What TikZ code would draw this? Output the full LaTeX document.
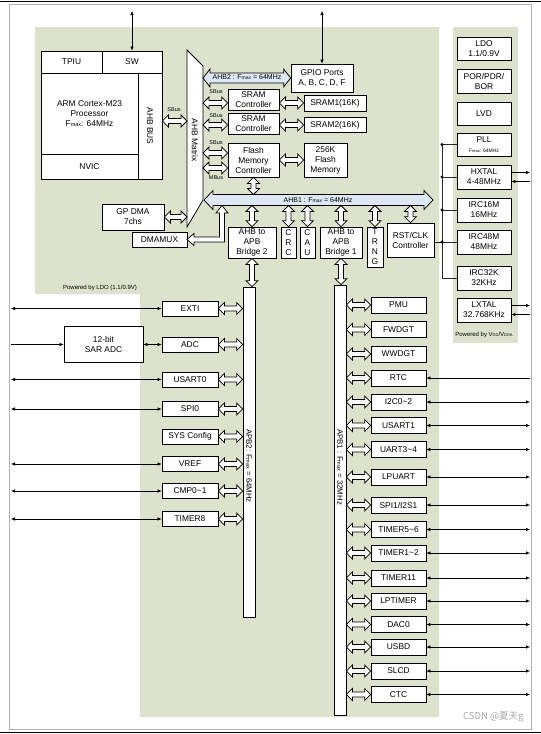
\documentclass[tikz,border=0pt]{standalone}
\usepackage{fontspec}
\setmainfont{Liberation Sans}
\newfontfamily\cjkfont{Noto Sans CJK SC}
\usepackage{tikz}
\usetikzlibrary{calc,arrows.meta}

\definecolor{chipgreen}{RGB}{221,226,205}
\definecolor{busblue}{RGB}{222,232,244}

\tikzset{
		>=stealth,
		blk/.style={draw,fill=white,line width=0.75pt,inner sep=0pt,align=center,font=\fontsize{8.4}{10}\selectfont},
		hollowarr/.style={draw,fill=white,line width=0.75pt,line join=miter},
		sig/.style={line width=0.6pt,{Latex[length=4pt,width=3.5pt]}-{Latex[length=4pt,width=3.5pt]}},
		sigin/.style={line width=0.6pt,-{Latex[length=4pt,width=3.5pt]}},
		clk/.style={line width=1pt,black!85},
		tinytxt/.style={font=\fontsize{5.5}{6}\selectfont},
		bustxt/.style={font=\fontsize{7}{7}\selectfont},
		perA/.style={blk,minimum width=56,minimum height=15},
		perB/.style={blk,minimum width=55,minimum height=16},
		pwr/.style={blk,minimum width=54,minimum height=24},
	}

\newcommand{\arrhl}{6pt}
\newcommand{\arrhw}{6pt}
\newcommand{\arrbw}{2.5pt}
\newcommand{\Fmx}[1][5.5]{F{\fontsize{#1}{#1}\selectfont max}}
\newcommand{\dblarrow}[3][]{%
  \draw[hollowarr,#1] (#2)
    -- ($($(#2)!\arrhl!(#3)$)!\arrhw!90:(#3)$)
    -- ($($(#2)!\arrhl!(#3)$)!\arrbw!90:(#3)$)
    -- ($($(#3)!\arrhl!(#2)$)!\arrbw!-90:(#2)$)
    -- ($($(#3)!\arrhl!(#2)$)!\arrhw!-90:(#2)$)
    -- (#3)
    -- ($($(#3)!\arrhl!(#2)$)!\arrhw!90:(#2)$)
    -- ($($(#3)!\arrhl!(#2)$)!\arrbw!90:(#2)$)
    -- ($($(#2)!\arrhl!(#3)$)!\arrbw!-90:(#3)$)
    -- ($($(#2)!\arrhl!(#3)$)!\arrhw!-90:(#3)$)
    -- cycle;}

\begin{document}
\begin{tikzpicture}[x=1pt,y=-1pt]
          \useasboundingbox (0,0) rectangle (541,734);
          \fill[white] (0,0) rectangle (541,734);
          \draw[gray!60,line width=0.8pt] (9,4) rectangle (531,729);
          \draw[line width=1.2pt] (0,1.5) -- (541,1.5);
          \draw[line width=1pt] (0,732.5) -- (541,732.5);

          % power domains
          \fill[chipgreen] (35,27) -- (439,27) -- (439,717) -- (140,717) -- (140,294) -- (35,294) -- cycle;
          \fill[chipgreen] (453,27) rectangle (518,343);
          \node[font=\fontsize{6}{6}\selectfont] at (100,288) {Powered by LDO (1.1/0.9V)};
          \node[font=\fontsize{6}{6}\selectfont] at (484,335) {Powered by V{\fontsize{4}{4}\selectfont DD}/V{\fontsize{4}{4}\selectfont DDA}};

          \coordinate (lft) at (11,0);
          \coordinate (rgt) at (530,0);
          \coordinate (mxl) at (187,0);
          \coordinate (mxr) at (203,0);
          \coordinate (ck) at (442,0);
          \coordinate (btop) at (0,194.5);
          \coordinate (bbot) at (0,205.5);
          \coordinate (sbus) at (0,121);

          % core
          \node[blk,minimum width=61,minimum height=22] (tpiu) at (71.5,62) {TPIU};
          \node[blk,minimum width=60,minimum height=22] (sw) at (132,62) {SW};
          \node[blk,minimum width=97,minimum height=81] (core) at (89.5,113.5) {ARM Cortex-M23\\Processor\\\Fmx: 64MHz};
          \node[blk,minimum width=97,minimum height=25] (nvic) at (89.5,166.5) {NVIC};
          \node[blk,minimum width=106,minimum height=24,rotate=-90] (cpubus) at (150,126) {AHB BUS};
          \coordinate (swtop) at (132,11);
          \draw[sig] (swtop) -- (sw.north);

          % matrix
          \draw[fill=white,line width=0.75pt] (187,50) -- (203,66) -- (203,200) -- (187,227) -- cycle;
          \node[font=\fontsize{8.4}{8}\selectfont,rotate=-90] at (195,140) {AHB Matrix};
          \dblarrow{sw.east |- sbus}{mxl |- sbus}
          \node[tinytxt] at (174,110) {SBus};

          % memories
          \node[blk,minimum width=62,minimum height=28] (gpio) at (322,78) {GPIO Ports\\A, B, C, D, F};
          \coordinate (gpiotop) at (322,11);
          \draw[sig] (gpiotop) -- (gpio.north);
          \node[blk,minimum width=51,minimum height=21] (sramc1) at (253.5,100) {SRAM\\Controller};
          \node[blk,minimum width=62,minimum height=16] (sram1) at (335,103) {SRAM1(16K)};
          \node[blk,minimum width=51,minimum height=21] (sramc2) at (253.5,123.5) {SRAM\\Controller};
          \node[blk,minimum width=62,minimum height=15] (sram2) at (335,125) {SRAM2(16K)};
          \node[blk,minimum width=51,minimum height=34] (flashc) at (253.5,160) {Flash\\Memory\\Controller};
          \node[blk,minimum width=43,minimum height=34] (flash) at (325.5,160) {256K\\Flash\\Memory};

          \dblarrow{mxr |- sram1.west}{sramc1.west |- sram1.west}
          \dblarrow{sramc1.east |- sram1.west}{sram1.west}
          \dblarrow{mxr |- sram2.west}{sramc2.west |- sram2.west}
          \dblarrow{sramc2.east |- sram2.west}{sram2.west}
          \dblarrow{mxr |- 0,153}{flashc.west |- 0,153}
          \dblarrow{mxr |- 0,168}{flashc.west |- 0,168}
          \dblarrow{flashc.east}{flash.west}
          \node[tinytxt] at (216,92) {SBus};
          \node[tinytxt] at (216,116) {SBus};
          \node[tinytxt] at (216,143) {SBus};
          \node[tinytxt] at (216,177.5) {MBus};

          % AHB2 / AHB1
          \begin{scope}
            \def\arrhl{7pt}\def\arrhw{9pt}\def\arrbw{5pt}
            \dblarrow[fill=busblue]{mxr |- gpio.west}{gpio.west}
            \def\arrhl{9pt}\def\arrhw{9.5pt}\def\arrbw{5.5pt}
            \coordinate (ahbl) at (204,200);
            \coordinate (ahbr) at (433,200);
            \dblarrow[fill=busblue]{ahbl}{ahbr}
          \end{scope}
          \node[bustxt] at (247,77) {AHB2 : \Fmx[5] = 64MHz};
          \node[bustxt] at (318,200) {AHB1 : \Fmx[5] = 64MHz};
          \dblarrow{flashc.south}{flashc.south |- btop}

          % DMA
          \node[blk,minimum width=62,minimum height=26] (gpdma) at (133,217) {GP DMA\\7chs};
          \node[blk,minimum width=55,minimum height=15] (dmamux) at (159.5,239.5) {DMAMUX};
          \dblarrow{gpdma.east}{gpdma.east -| mxl}
          \draw[hollowarr] (187,239.5) -- (194,233.5) -- (194,237) -- (219.5,237) -- (219.5,213) -- (216,213) -- (222,205.5)
            -- (228,213) -- (224.5,213) -- (224.5,242) -- (194,242) -- (194,245.5) -- cycle;

          % AHB1 slaves
          \node[blk,minimum width=48,minimum height=31] (apbbr2) at (252,242.5) {AHB to\\APB\\Bridge 2};
          \node[blk,minimum width=15,minimum height=31] (crc) at (288.5,242.5) {C\\R\\C};
          \node[blk,minimum width=15,minimum height=31] (cau) at (307.5,242.5) {C\\A\\U};
          \node[blk,minimum width=42,minimum height=31] (apbbr1) at (341,242.5) {AHB to\\APB\\Bridge 1};
          \node[blk,minimum width=16,minimum height=40] (trng) at (375,247) {T\\R\\N\\G};
          \node[blk,minimum width=47,minimum height=34] (rstclk) at (410.5,240) {RST/CLK\\Controller};
          \dblarrow{apbbr2.north |- bbot}{apbbr2.north}
          \dblarrow{crc.north |- bbot}{crc.north}
          \dblarrow{cau.north |- bbot}{cau.north}
          \dblarrow{apbbr1.north |- bbot}{apbbr1.north}
          \dblarrow{trng.north |- bbot}{trng.north}
          \dblarrow{rstclk.north |- bbot}{rstclk.north}

          % APB buses
          \node[draw,fill=white,line width=0.75pt,inner sep=0pt,minimum width=12,minimum height=330] (apb2) at (249,452) {};
          \node[draw,fill=white,line width=0.75pt,inner sep=0pt,minimum width=12,minimum height=430] (apb1) at (340,500) {};
          \node[font=\fontsize{7.8}{8}\selectfont,rotate=-90] at (249,466) {APB2: \Fmx[5.5] = 64MHz};
          \node[font=\fontsize{7.8}{8}\selectfont,rotate=-90] at (340,467) {APB1 : \Fmx[5.5] = 32MHz};
          \dblarrow{apbbr2.south}{apbbr2.south |- apb2.north}
          \dblarrow{apbbr1.south}{apbbr1.south |- apb1.north}

          % APB2 peripherals
          \node[perA] (exti) at (190,308.5) {EXTI};
          \node[perA] (adc) at (190,344.5) {ADC};
          \node[perA] (usart0) at (190,379.5) {USART0};
          \node[perA] (spi0) at (190,409) {SPI0};
          \node[perA] (syscfg) at (190,436.5) {SYS Config};
          \node[perA] (vref) at (190,464) {VREF};
          \node[perA] (cmp) at (190,491) {CMP0\textasciitilde1};
          \node[perA] (timer8) at (190,519) {TIMER8};
          \node[blk,minimum width=79,minimum height=36] (sar) at (103.5,344.5) {12-bit\\SAR ADC};

          \dblarrow{exti.east}{exti.east -| apb2.west}
          \dblarrow{adc.east}{adc.east -| apb2.west}
          \dblarrow{usart0.east}{usart0.east -| apb2.west}
          \dblarrow{spi0.east}{spi0.east -| apb2.west}
          \dblarrow{syscfg.east}{syscfg.east -| apb2.west}
          \dblarrow{vref.east}{vref.east -| apb2.west}
          \dblarrow{cmp.east}{cmp.east -| apb2.west}
          \dblarrow{timer8.east}{timer8.east -| apb2.west}

          \draw[sig] (exti.west -| lft) -- (exti.west);
          \draw[sigin] (sar.west -| lft) -- (sar.west);
          \draw[sig] (sar.east) -- (adc.west);
          \draw[sig] (usart0.west -| lft) -- (usart0.west);
          \draw[sig] (spi0.west -| lft) -- (spi0.west);
          \draw[sig] (vref.west -| lft) -- (vref.west);
          \draw[sig] (cmp.west -| lft) -- (cmp.west);
          \draw[sig] (timer8.west -| lft) -- (timer8.west);

          % APB1 peripherals
          \node[perB] (pmu) at (398.5,305) {PMU};
          \node[perB] (fwdgt) at (398.5,329.5) {FWDGT};
          \node[perB] (wwdgt) at (398.5,354) {WWDGT};
          \node[perB] (rtc) at (398.5,378) {RTC};
          \node[perB] (i2c) at (398.5,402) {I2C0\textasciitilde2};
          \node[perB] (usart1) at (398.5,425.5) {USART1};
          \node[perB] (uart) at (398.5,449.5) {UART3\textasciitilde4};
          \node[perB] (lpuart) at (398.5,477) {LPUART};
          \node[perB] (spi1) at (398.5,505) {SPI1/I2S1};
          \node[perB] (tim56) at (398.5,529.5) {TIMER5\textasciitilde6};
          \node[perB] (tim12) at (398.5,553) {TIMER1\textasciitilde2};
          \node[perB] (tim11) at (398.5,578) {TIMER11};
          \node[perB] (lptim) at (398.5,601) {LPTIMER};
          \node[perB] (dac) at (398.5,624.5) {DAC0};
          \node[perB] (usbd) at (398.5,647) {USBD};
          \node[perB] (slcd) at (398.5,671) {SLCD};
          \node[perB] (ctc) at (398.5,694.5) {CTC};

          \dblarrow{pmu.west -| apb1.east}{pmu.west}
          \dblarrow{fwdgt.west -| apb1.east}{fwdgt.west}
          \dblarrow{wwdgt.west -| apb1.east}{wwdgt.west}
          \dblarrow{rtc.west -| apb1.east}{rtc.west}
          \dblarrow{i2c.west -| apb1.east}{i2c.west}
          \dblarrow{usart1.west -| apb1.east}{usart1.west}
          \dblarrow{uart.west -| apb1.east}{uart.west}
          \dblarrow{lpuart.west -| apb1.east}{lpuart.west}
          \dblarrow{spi1.west -| apb1.east}{spi1.west}
          \dblarrow{tim56.west -| apb1.east}{tim56.west}
          \dblarrow{tim12.west -| apb1.east}{tim12.west}
          \dblarrow{tim11.west -| apb1.east}{tim11.west}
          \dblarrow{lptim.west -| apb1.east}{lptim.west}
          \dblarrow{dac.west -| apb1.east}{dac.west}
          \dblarrow{usbd.west -| apb1.east}{usbd.west}
          \dblarrow{slcd.west -| apb1.east}{slcd.west}
          \dblarrow{ctc.west -| apb1.east}{ctc.west}

          \draw[sigin] (rtc.east -| rgt) -- (rtc.east);
          \draw[sig] (i2c.east) -- (i2c.east -| rgt);
          \draw[sig] (usart1.east) -- (usart1.east -| rgt);
          \draw[sig] (uart.east) -- (uart.east -| rgt);
          \draw[sig] (lpuart.east) -- (lpuart.east -| rgt);
          \draw[sig] (spi1.east) -- (spi1.east -| rgt);
          \draw[sig] (tim56.east) -- (tim56.east -| rgt);
          \draw[sig] (tim12.east) -- (tim12.east -| rgt);
          \draw[sig] (tim11.east) -- (tim11.east -| rgt);
          \draw[sig] (lptim.east) -- (lptim.east -| rgt);
          \draw[sig] (dac.east) -- (dac.east -| rgt);
          \draw[sig] (usbd.east) -- (usbd.east -| rgt);
          \draw[sig] (slcd.east) -- (slcd.east -| rgt);
          \draw[sig] (ctc.east) -- (ctc.east -| rgt);

          % power and clocks
          \node[pwr,minimum height=23] (ldo) at (484,48.5) {LDO\\1.1/0.9V};
          \node[pwr] (por) at (484,81) {POR/PDR/\\BOR};
          \node[pwr,minimum height=23] (lvd) at (484,113.5) {LVD};
          \node[pwr,minimum height=23] (pll) at (484,144.5) {PLL\\{\fontsize{5}{6}\selectfont \Fmx[4]: 64MHz}};
          \node[pwr] (hxtal) at (484,177) {HXTAL\\4-48MHz};
          \node[pwr] (irc16) at (484,210) {IRC16M\\16MHz};
          \node[pwr] (irc48) at (484,242) {IRC48M\\48MHz};
          \node[pwr] (irc32) at (484,278) {IRC32K\\32KHz};
          \node[pwr] (lxtal) at (484,310) {LXTAL\\32.768KHz};

          \draw[clk] (pll.west) -- (pll.west -| ck) -- (irc32.west -| ck) -- (irc32.west);
          \draw[clk] (hxtal.west -| ck) -- (hxtal.west);
          \draw[clk] (irc16.west -| ck) -- (irc16.west);
          \draw[clk] (rstclk.east |- irc48.west) -- (irc48.west);
          \fill (pll.west -| ck) circle (1.7);
          \fill (hxtal.west -| ck) circle (1.7);
          \fill (irc16.west -| ck) circle (1.7);
          \fill (irc48.west -| ck) circle (1.7);

          \coordinate (hxo) at ([yshift=4.5pt]hxtal.east);
          \coordinate (hxi) at ([yshift=-4.5pt]hxtal.east);
          \coordinate (lxo) at ([yshift=4.5pt]lxtal.east);
          \coordinate (lxi) at ([yshift=-4.5pt]lxtal.east);
          \draw[sigin] (hxo) -- (hxo -| rgt);
          \draw[sigin] (hxi -| rgt) -- (hxi);
          \draw[sigin] (lxo) -- (lxo -| rgt);
          \draw[sigin] (lxi -| rgt) -- (lxi);

          \node[anchor=east,text=gray!70,font=\cjkfont\fontsize{9.5}{10}\selectfont] at (527,717) {CSDN @夏天g};

          \end{tikzpicture}
\end{document}
